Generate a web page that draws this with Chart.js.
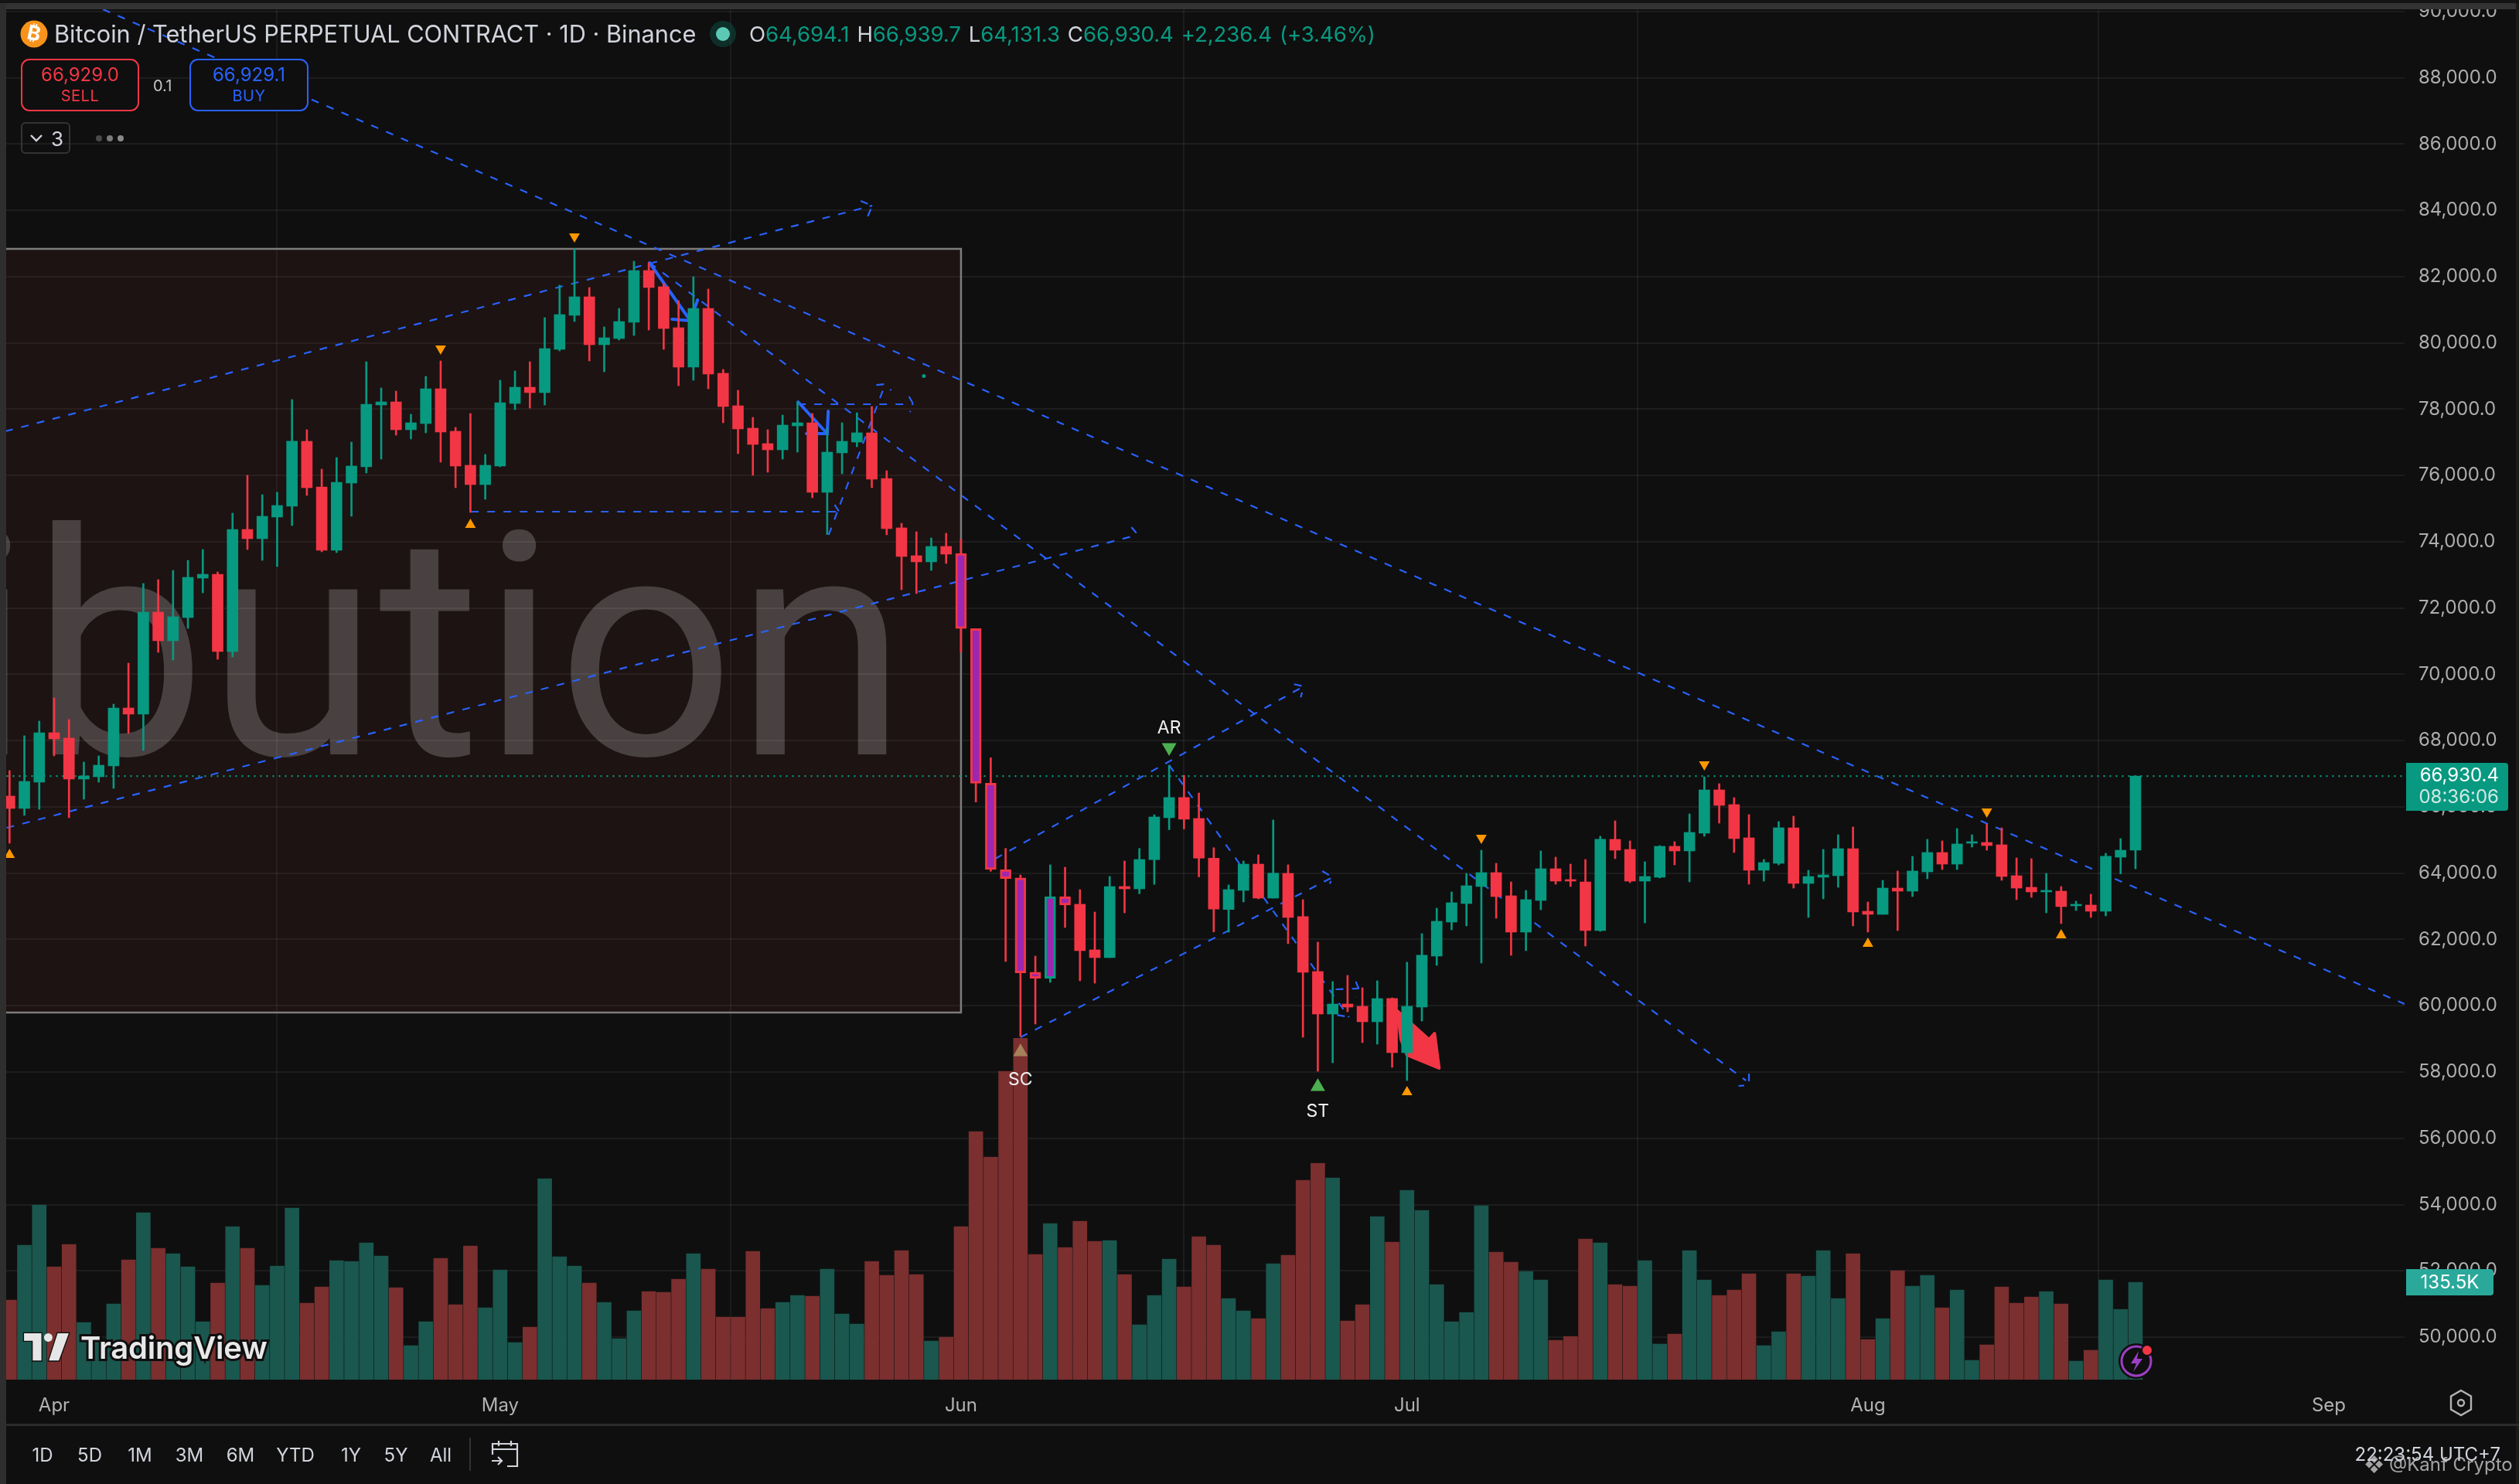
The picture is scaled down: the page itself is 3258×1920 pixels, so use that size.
<!DOCTYPE html>
<html><head><meta charset="utf-8"><title>BTCUSDT.P 1D</title>
<script src="https://cdn.jsdelivr.net/npm/chart.js@4/dist/chart.umd.min.js"></script>
<style>
html,body{margin:0;padding:0;background:#0f0f0f;overflow:hidden;width:3258px;height:1920px;font-family:Inter,sans-serif}
canvas{position:absolute;left:0;top:0}
.t{position:absolute;white-space:nowrap;line-height:1}
.b{position:absolute;box-sizing:border-box}
svg{position:absolute;overflow:visible}
</style></head><body>
<canvas id="c" width="3258" height="1920"></canvas>

<div class="b" style="left:0;top:0;width:3258px;height:4px;background:#141414"></div>
<div class="b" style="left:0;top:4px;width:3258px;height:8px;background:#333"></div>
<div class="b" style="left:0;top:4px;width:8px;height:1916px;background:#2e2e2e"></div>
<div class="b" style="left:3254px;top:4px;width:4px;height:1916px;background:#1a1a1a"></div>

<svg style="left:26px;top:26px" width="36" height="36" viewBox="0 0 36 36"><circle cx="18" cy="18" r="17.5" fill="#f7931a"/></svg>
<div class="t" style="left:26px;top:30px;width:36px;text-align:center;font-size:26px;font-weight:700;color:#fff;transform:rotate(12deg)">₿</div>
<div class="t" id="title" style="left:70px;top:29px;font-size:30.7px;color:#d1d4dc">Bitcoin / TetherUS PERPETUAL CONTRACT · 1D · Binance</div>
<svg style="left:915px;top:24px" width="40" height="40" viewBox="0 0 40 40"><circle cx="20" cy="20" r="17" fill="#0f4a40" opacity=".55"/><circle cx="20" cy="20" r="9" fill="#5cc9b5"/></svg>
<div class="t" style="left:969px;top:31px;font-size:27.6px;color:#d1d4dc;letter-spacing:-.1px">O<span style="color:#089981">64,694.1</span><span style="margin-left:10px">H</span><span style="color:#089981">66,939.7</span><span style="margin-left:10px">L</span><span style="color:#089981">64,131.3</span><span style="margin-left:10px">C</span><span style="color:#089981">66,930.4</span><span style="margin-left:10px;color:#089981">+2,236.4</span><span style="margin-left:10px;color:#089981">(+3.46%)</span></div>

<div class="b" style="left:27px;top:76px;width:153px;height:68px;border:2.5px solid #f23645;border-radius:11px;background:#0f0f0f"></div>
<div class="t" style="left:27px;top:85px;width:153px;text-align:center;font-size:24px;color:#f23645">66,929.0</div>
<div class="t" style="left:27px;top:114px;width:153px;text-align:center;font-size:20px;color:#f23645;letter-spacing:.5px">SELL</div>
<div class="t" style="left:198px;top:101px;font-size:20px;color:#c4c4c4">0.1</div>
<div class="b" style="left:245px;top:76px;width:154px;height:68px;border:2.5px solid #2962ff;border-radius:11px;background:#0f0f0f"></div>
<div class="t" style="left:245px;top:85px;width:154px;text-align:center;font-size:24px;color:#2962ff">66,929.1</div>
<div class="t" style="left:245px;top:114px;width:154px;text-align:center;font-size:20px;color:#2962ff;letter-spacing:.5px">BUY</div>
<div class="b" style="left:27px;top:158px;width:64px;height:41px;border:2px solid #343434;border-radius:6px"></div>
<svg style="left:38px;top:172px" width="18" height="14" viewBox="0 0 18 14"><path d="M2 3 L9 10 L16 3" stroke="#d1d4dc" stroke-width="2.4" fill="none"/></svg>
<div class="t" style="left:66px;top:167px;font-size:26px;color:#d1d4dc">3</div>
<svg style="left:120px;top:170px" width="44" height="18" viewBox="0 0 44 18"><circle cx="8" cy="9" r="4" fill="#4a4a4a"/><circle cx="22" cy="9" r="4" fill="#7a7a7a"/><circle cx="36" cy="9" r="4" fill="#8a8a8a"/></svg>

<div class="b" style="left:3112px;top:987px;width:132px;height:62px;background:#089981;border-radius:0 4px 4px 0"></div>
<div class="t" style="left:3112px;top:991px;width:120px;text-align:right;font-size:24px;color:#fff">66,930.4</div>
<div class="t" style="left:3112px;top:1019px;width:120px;text-align:right;font-size:24px;color:#cfe9e4">08:36:06</div>
<div class="b" style="left:3112px;top:1642px;width:113px;height:34px;background:#2aa99b;border-radius:0 4px 4px 0"></div>
<div class="t" style="left:3112px;top:1647px;width:113px;text-align:center;font-size:24px;color:#fff">135.5K</div>

<svg style="left:31px;top:1725px" width="58" height="36" viewBox="0 0 36 22.4"><path d="M14 0H0v6h7v16h7V0zm14 22h-8L27 0h9l-8 22z" fill="#e6e6e6" stroke="#0f0f0f" stroke-width="1.6" paint-order="stroke"/><circle cx="19.5" cy="3.4" r="3.4" fill="#e6e6e6"/></svg>
<div class="t" style="left:104px;top:1724px;font-size:40px;font-weight:600;color:#e8e8e8;letter-spacing:-.2px;-webkit-text-stroke:6px #0f0f0f;paint-order:stroke fill">TradingView</div>

<svg style="left:2741px;top:1737px" width="46" height="48" viewBox="0 0 46 48"><circle cx="22" cy="24" r="23" fill="#0f0f0f"/><circle cx="22" cy="24" r="19" fill="none" stroke="#9c3fc4" stroke-width="3"/><path d="M25 11 L15 27 H22 L18 38 L30 21 H23 Z" fill="#9c3fc4"/><circle cx="36" cy="10" r="7" fill="#f23645" stroke="#0f0f0f" stroke-width="2"/></svg>

<svg style="left:3166px;top:1796px" width="34" height="38" viewBox="0 0 34 38"><path d="M17 3 L30 10.5 V27.5 L17 35 L4 27.5 V10.5 Z" fill="none" stroke="#b2b2b2" stroke-width="2.4"/><circle cx="17" cy="19" r="4" fill="none" stroke="#b2b2b2" stroke-width="2.4"/></svg>

<div class="b" style="left:8px;top:1842px;width:3250px;height:3px;background:#2b2b2b"></div>
<div class="t rng" style="left:55px;top:1871px;transform:translateX(-50%);font-size:24px;color:#d1d4dc">1D</div>
<div class="t rng" style="left:116px;top:1871px;transform:translateX(-50%);font-size:24px;color:#d1d4dc">5D</div>
<div class="t rng" style="left:181px;top:1871px;transform:translateX(-50%);font-size:24px;color:#d1d4dc">1M</div>
<div class="t rng" style="left:245px;top:1871px;transform:translateX(-50%);font-size:24px;color:#d1d4dc">3M</div>
<div class="t rng" style="left:311px;top:1871px;transform:translateX(-50%);font-size:24px;color:#d1d4dc">6M</div>
<div class="t rng" style="left:382px;top:1871px;transform:translateX(-50%);font-size:24px;color:#d1d4dc">YTD</div>
<div class="t rng" style="left:454px;top:1871px;transform:translateX(-50%);font-size:24px;color:#d1d4dc">1Y</div>
<div class="t rng" style="left:512px;top:1871px;transform:translateX(-50%);font-size:24px;color:#d1d4dc">5Y</div>
<div class="t rng" style="left:570px;top:1871px;transform:translateX(-50%);font-size:24px;color:#d1d4dc">All</div>
<div class="b" style="left:607px;top:1860px;width:2px;height:43px;background:#333"></div>
<svg style="left:634px;top:1862px" width="38" height="38" viewBox="0 0 38 38"><path d="M3 20 V6 H35 V35 H22 M3 13 H35 M11 2 V9 M27 2 V9" fill="none" stroke="#d1d4dc" stroke-width="2.2"/><path d="M2 28 H15 M10 23 L15 28 L10 33" fill="none" stroke="#d1d4dc" stroke-width="2.2"/></svg>
<div class="t" style="right:24px;top:1870px;font-size:24px;color:#d1d4dc">22:23:54 UTC+7</div>
<div class="t" style="left:3058px;top:1883px;font-size:24px;color:rgba(200,200,200,.8)">❖ @Kanf Crypto</div>

<script>
// Days are counted from 1 April; the first visible candle is three days earlier.
const firstDay = -3;
const opens = [66326,65953,66745,68238,68075,66839,66909,67235,68984,68798,71876,71013,71712,72902,73018,70686,74371,74091,74744,75071,77030,75654,73741,75770,76260,78126,78219,77379,77566,78615,77333,76307,75724,76283,78172,78662,78499,79805,80831,81390,79944,80131,80621,82183,81693,80457,79268,81040,79082,78102,77426,76960,76773,77496,77589,75491,76680,77006,77286,75910,74418,73578,73392,73858,73648,71379,66713,64110,63854,61009,60830,63294,63061,61685,61452,63597,63526,64407,65673,66283,65650,64453,62905,63480,64273,63247,63993,62688,61032,59749,60052,59983,59516,60216,58583,59959,61498,62524,63084,63597,64017,63317,62221,63177,64133,63807,63737,62268,65020,64716,63760,63877,64810,64670,65206,66512,66069,65066,64087,64297,65369,63690,63877,63924,64740,62851,62758,63550,63457,64040,64623,64273,64903,64926,64856,63923,63574,63434,63457,63014,63037,62851,64482,64694.1];
const highs = [67095,68145,68588,69287,68634,67352,67538,69101,70337,72738,72855,73135,73438,73764,73088,74861,76004,75420,75491,78289,77379,76190,76540,77006,79431,78639,78545,77846,78988,79455,77449,77869,76633,78872,79151,79431,80761,81740,82836,81670,80481,81040,82463,82416,81794,81274,81996,81623,79198,78569,77752,77379,77822,78219,77869,77441,77589,77892,78079,76143,74558,74301,74115,74255,74076,71379,67481,64746,63947,61498,64250,64180,63504,62827,63900,64367,64746,65763,67255,66950,66419,64769,63644,64367,64553,65605,64250,63200,61918,60729,60915,60542,60752,60239,61312,62175,62944,63434,63993,64693,64297,63737,63480,64670,64483,64273,64413,65113,65579,64973,64343,64833,64950,65789,66908,66699,66279,65766,64413,65556,65719,64087,64716,65159,65393,63131,63784,64064,64507,65020,64973,65346,65159,65486,65369,64460,64437,63993,63597,63154,63364,64599,65042,66939.7];
const lows = [64903,65743,65929,67538,65673,66232,66745,66559,68215,67702,70663,70430,71386,72459,70453,70523,73765,73438,73252,74488,75397,73695,73672,74768,76073,76493,77216,77100,77286,76400,75630,74884,75280,76260,77986,78032,78125,79758,80644,79455,79128,80084,80224,80387,79804,78708,78872,78615,77589,76656,76004,76097,76493,76703,75327,74216,76050,76866,75630,74208,72552,72436,73135,73345,70668,66147,64057,61335,59073,59446,60705,62361,60752,60682,61452,62804,63379,63662,65311,65334,63888,62227,62221,63131,63224,63247,61871,59050,58024,58280,59819,58887,58840,58140,57744,59539,61218,62291,62408,61289,62641,61522,61662,62897,63667,63597,61802,62245,64437,63714,62501,63854,64250,63737,65113,65509,64623,63667,63760,64250,63550,62664,63224,63574,62408,62221,62758,62268,63294,63830,64110,64110,64786,64693,63784,63201,63271,62804,62478,62874,62664,62711,63977,64131.3];
const closes = [65953,66769,68238,68051,66839,66932,67258,68984,68798,71876,71013,71736,72925,73018,70686,74371,74091,74768,75094,77030,75630,73741,75793,76283,78149,78219,77379,77589,78615,77310,76283,75724,76307,78195,78662,78499,79828,80854,81390,79944,80154,80644,82183,81670,80434,79268,81040,79058,78079,77403,76936,76773,77519,77589,75491,76703,77030,77286,75887,74395,73555,73392,73858,73625,71379,66713,64113,63838,60993,60830,63294,63037,61661,61452,63597,63527,64413,65695,66283,65628,64453,62916,63504,64273,63247,64000,62664,61009,59749,60052,59959,59516,60216,58583,59983,61522,62548,63107,63620,64017,63294,62221,63201,64133,63760,63760,62268,65020,64693,63760,63900,64810,64670,65229,66512,66046,65043,64087,64320,65369,63690,63900,63947,64740,62828,62758,63550,63457,64064,64623,64273,64880,64950,64833,63900,63550,63434,63481,62991,63061,62851,64507,64692,66930.4];
const volumesK = [110.8,187.1,243.1,157.0,188.2,79.6,55.6,105.4,166.7,232.3,182.8,175.3,157.0,80.7,134.4,212.9,182.8,131.2,158.1,238.8,106.5,129.1,165.6,164.6,190.4,172.1,128.0,47.3,80.7,168.9,104.3,186.1,100.0,152.7,51.6,73.1,279.6,171.0,158.1,134.4,107.6,57.0,95.7,122.6,121.5,139.8,175.3,153.8,87.1,87.1,178.5,98.9,107.6,117.2,116.2,153.8,91.4,77.4,164.6,145.2,179.6,146.3,53.8,59.2,212.9,345.2,309.7,429,475,174.2,217.3,183.9,220.5,192.5,193.6,146.3,76.4,117.2,167.8,129.1,199.0,187.1,112.9,95.7,85.0,161.3,173.2,277.5,301.1,280.7,81.7,104.3,226.9,191.4,263.5,235.5,132.3,80.7,93.6,242.0,177.5,163.5,150.6,138.7,54.9,60.2,195.7,190.4,132.3,130.1,165.6,49.5,63.5,179.6,138.7,117.2,124.8,147.3,47.3,66.7,147.3,144.1,179.6,112.9,175.3,55.9,85.0,151.6,130.1,145.2,100.0,124.8,26.9,48.4,129.1,106.5,115.1,122.6,105.4,25.8,40.9,138.7,97.9,135.5];
const highlightedDays = [61,62,63,64,65,66,67,68];

const priceTicks = [50000,52000,54000,56000,58000,60000,62000,64000,66000,68000,70000,72000,74000,76000,78000,80000,82000,84000,86000,88000,90000];
const monthDays = [0,30,61,91,122,153];
const monthNames = ['Apr','May','Jun','Jul','Aug','Sep'];
const lastPrice = 66930.4;

// Drawings, as [day, price] vertices.
const dashedLines = [
 [[3.28,90065],[158.1,60052]],
 [[40.05,82416],[113.8,57743]],
 [[114.0,57953],[114.0,57609],[113.3,57580]],
 [[-3.28,77332],[55.03,84141]],
 [[54.25,84281],[55.03,84141],[54.7,83791]],
 [[-3.2,65369],[72.9,74207]],
 [[72.46,74440],[72.9,74207],[72.72,74043]],
 [[63.3,64436],[84.05,69637]],
 [[83.4,69701],[84.05,69637],[83.85,69305]],
 [[65.0,59049],[86.0,63876]],
 [[85.3,64063],[86.0,63876],[85.8,63680]],
 [[28.04,74907],[52.8,74907]],
 [[52.5,75117],[52.8,74907],[52.5,74767]],
 [[52.1,74207],[55.9,78754]],
 [[55.3,78730],[55.9,78754],[56.3,78567]],
 [[50.04,78148],[57.8,78148]],
 [[57.5,78381],[57.8,78148],[57.57,77914]],
 [[75.0,67258],[87.1,59655]],
 [[86.2,60495],[87.75,60519]],
 [[87.55,60728],[87.75,60519],[87.55,60262]],
 [[86.3,59724],[87.1,59655]]
];
const solidArrows = [
 [[40.05,82416],[42.8,80667]],
 [[41.56,80713],[42.8,80667],[43.28,81296]],
 [[50.04,78218],[52.0,77262]],
 [[50.6,77262],[52.0,77262],[52.07,77937]]
];
const redArrow = [[90.35,59842],[92.48,58979],[92.85,59165],[93.16,58116],[91.0,58513],[90.6,58979]];
const distributionBox = {fromDay:-6, toDay:61, top:82836, bottom:59795};
const watermark = {text:'Distribution', day:57.4, price:67584};
const orangeDown = [[35,83209],[26,79827],[111,67281],[96,65066],[130,65859]];
const orangeUp = [[-3,64553],[28,74510],[91,57393],[122,61871],[135,62128]];
const greenDown = [[75,67794]];
const greenUp = [[85,57557]];
const tanUp = [[65,58606]];
const textMarks = [['AR',75,68370],['SC',65,57770],['ST',85,56800]];
const strayDot = [[58.5,79000]];

const UP='#089981', DOWN='#f23645', PURPLE='#9c27b0';
const n = closes.length;
const days = closes.map((_,i)=>firstDay+i);
const isUp = closes.map((c,i)=>c>=opens[i]);
const xy = pts => pts.map(p=>({x:p[0],y:p[1]}));

const lineSets = dashedLines.map(l=>({type:'line',data:xy(l),borderColor:'#2962ff',borderWidth:2.2,borderDash:[10,11],pointRadius:0,tension:0,fill:false,order:5}))
 .concat(solidArrows.map(l=>({type:'line',data:xy(l),borderColor:'#2962ff',borderWidth:4,pointRadius:0,tension:0,fill:false,order:4,borderCapStyle:'round'})));

const marker=(pts,color,radius,rotation)=>({type:'scatter',data:xy(pts),pointStyle:'triangle',pointRadius:radius,pointRotation:rotation,backgroundColor:color,borderColor:color,borderWidth:0,order:-1,showLine:false});

const overlay={id:'overlay',
 beforeDatasetsDraw(ch){
  const {ctx,chartArea:a,scales:{x,y}}=ch;
  ctx.save();ctx.beginPath();ctx.rect(a.left,a.top,a.right-a.left,a.bottom-a.top);ctx.clip();
  const bx=distributionBox,l=x.getPixelForValue(bx.fromDay),r=x.getPixelForValue(bx.toDay),t=y.getPixelForValue(bx.top),b=y.getPixelForValue(bx.bottom);
  ctx.fillStyle='rgba(145,55,45,.1)';ctx.fillRect(l,t,r-l,b-t);
  ctx.strokeStyle='#7d7d7d';ctx.lineWidth=2.5;ctx.strokeRect(l,t,r-l,b-t);
  ctx.fillStyle='rgba(255,255,255,.2)';ctx.font='404px Roboto';ctx.textAlign='right';ctx.textBaseline='alphabetic';
  ctx.fillText(watermark.text,x.getPixelForValue(watermark.day),y.getPixelForValue(watermark.price));
  ctx.beginPath();redArrow.forEach((p,i)=>{const X=x.getPixelForValue(p[0]),Y=y.getPixelForValue(p[1]);i?ctx.lineTo(X,Y):ctx.moveTo(X,Y)});ctx.closePath();
  ctx.fillStyle=DOWN;ctx.strokeStyle=DOWN;ctx.lineWidth=4;ctx.lineJoin='round';ctx.fill();ctx.stroke();
  ctx.restore();
 },
 afterDatasetsDraw(ch){
  const {ctx,scales:{x,y}}=ch;
  ctx.save();ctx.font='23px Inter';ctx.fillStyle='#f0f0f0';ctx.textAlign='center';ctx.textBaseline='middle';
  textMarks.forEach(m=>ctx.fillText(m[0],x.getPixelForValue(m[1]),y.getPixelForValue(m[2])));
  ctx.restore();
 }};

new Chart(document.getElementById('c'),{
 data:{datasets:[
  {type:'bar',label:'Volume',yAxisID:'v',data:days.map((d,i)=>({x:d,y:volumesK[i]})),backgroundColor:isUp.map(u=>u?'rgba(28,92,83,.94)':'rgba(131,50,50,.94)'),barThickness:18,grouped:false,order:8},
  {type:'line',label:'Last',data:[{x:-3.2,y:lastPrice},{x:158.1,y:lastPrice}],borderColor:UP,borderWidth:2.2,borderDash:[2,6],pointRadius:0,order:6},
  ...lineSets,
  {type:'bar',label:'Wick',data:days.map((d,i)=>({x:d,y:[lows[i],highs[i]]})),backgroundColor:isUp.map(u=>u?UP:DOWN),barThickness:2,grouped:false,order:1},
  {type:'bar',label:'Body',data:days.map((d,i)=>({x:d,y:[Math.min(opens[i],closes[i]),Math.max(opens[i],closes[i])]})),
   backgroundColor:days.map((d,i)=>highlightedDays.includes(d)?PURPLE:(isUp[i]?UP:DOWN)),
   borderColor:isUp.map(u=>u?UP:DOWN),borderWidth:days.map(d=>highlightedDays.includes(d)?3:0),borderSkipped:false,barThickness:14,grouped:false,order:0},
  marker(orangeDown,'#ff9800',8,180),marker(orangeUp,'#ff9800',8,0),marker(greenDown,'#4caf50',11,180),marker(greenUp,'#4caf50',11,0),marker(tanUp,'#a6825a',11,0),
  {type:'scatter',data:xy(strayDot),pointRadius:2.5,backgroundColor:UP,borderWidth:0,order:3}
 ]},
 options:{responsive:false,animation:false,devicePixelRatio:1,
  layout:{autoPadding:false,padding:{left:8,top:12,right:0,bottom:77}},
  plugins:{legend:{display:false},tooltip:{enabled:false}},
  scales:{
   x:{type:'linear',position:'bottom',min:-3.225,max:158.1,offset:false,
    grid:{color:'rgba(255,255,255,.055)',lineWidth:2,drawTicks:false},border:{display:false},
    afterBuildTicks(s){s.ticks=monthDays.map(v=>({value:v}))},
    afterFit(s){s.height=58;s.paddingLeft=0;s.paddingRight=0;s.paddingTop=0;s.paddingBottom=0},
    ticks:{autoSkip:false,maxRotation:0,padding:19,color:'#b2b2b2',font:{family:'Inter',size:24},callback:v=>monthNames[monthDays.indexOf(v)]}},
   y:{type:'linear',position:'right',min:48718,max:90065,
    grid:{color:'rgba(255,255,255,.06)',lineWidth:2,drawTicks:false},border:{display:false},
    afterBuildTicks(s){s.ticks=priceTicks.map(v=>({value:v}))},
    afterFit(s){s.width=148;s.paddingLeft=0;s.paddingRight=0;s.paddingTop=0;s.paddingBottom=0},
    ticks:{autoSkip:false,padding:18,color:'#adadad',font:{family:'Inter',size:24},callback:v=>v.toLocaleString('en-US',{minimumFractionDigits:1})}},
   v:{type:'linear',display:false,min:0,max:1907}
  }},
 plugins:[overlay]
});
</script>
</body></html>
